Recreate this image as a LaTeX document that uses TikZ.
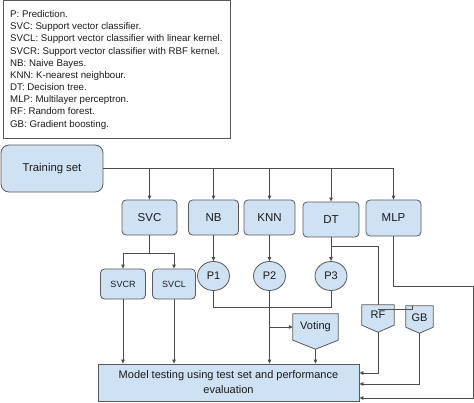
\documentclass[tikz,border=0pt]{standalone}
\usepackage{fontspec}
\setmainfont{Liberation Sans}
\usetikzlibrary{arrows.meta,calc,shapes.geometric}
\definecolor{boxfill}{HTML}{CFE2F3}
\definecolor{edgecol}{HTML}{595959}
\definecolor{wire}{HTML}{4D4D4D}
\definecolor{txt}{HTML}{1A1A1A}
\begin{document}
\begin{tikzpicture}[x=1pt,y=-1pt,
  box/.style={draw=edgecol, fill=boxfill, rounded corners=4pt, line width=0.8pt, inner sep=0pt, text=txt},
  bigfont/.style={font=\fontsize{11.5}{13}\selectfont},
  smallfont/.style={font=\fontsize{9}{11}\selectfont},
  pcirc/.style={ellipse, draw=edgecol, fill=boxfill, line width=0.8pt, inner sep=0pt, minimum width=32, minimum height=29, text=txt, font=\fontsize{11}{13}\selectfont},
  tagtext/.style={inner sep=0pt, text=txt, font=\fontsize{11}{13}\selectfont},
  tagshape/.style={draw=edgecol, fill=boxfill, line width=0.8pt, line join=round},
  wireline/.style={draw=wire, line width=0.8pt},
  arr/.style={wireline, -{Triangle[length=4pt,width=3.5pt]}},
  legline/.style={anchor=base west, inner sep=0pt, text=txt, font=\fontsize{9.7}{12}\selectfont}
]
\useasboundingbox (0,0) rectangle (474,402);

% legend
\node[draw=edgecol, line width=0.8pt, anchor=north west, minimum width=227, minimum height=138, inner sep=0pt] (legend) at (3,0.4) {};
\foreach \t [count=\i] in {P: Prediction.,
  SVC: Support vector classifier.,
  SVCL: Support vector classifier with linear kernel.,
  SVCR: Support vector classifier with RBF kernel.,
  NB: Naive Bayes.,
  KNN: K-nearest neighbour.,
  DT: Decision tree.,
  MLP: Multilayer perceptron.,
  RF: Random forest.,
  GB: Gradient boosting.}
  \node[legline] (leg\i) at (10,{17.5+12.17*(\i-1)}) {\t};

% training set
\node[box, rounded corners=8pt, minimum width=102, minimum height=47, font=\fontsize{11.3}{13}\selectfont] (train) at (52,168.5) {Training set};

% models
\node[box, bigfont, minimum width=55, minimum height=35] (svc) at (149.5,217.5) {SVC};
\node[box, bigfont, minimum width=50, minimum height=35] (nb) at (213.5,217.5) {NB};
\node[box, bigfont, minimum width=51, minimum height=35] (knn) at (269.5,217.5) {KNN};
\node[box, bigfont, minimum width=56, minimum height=35] (dt) at (331,219.5) {DT};
\node[box, bigfont, minimum width=55, minimum height=36] (mlp) at (393.5,218) {MLP};

% second level
\node[box, smallfont, minimum width=45, minimum height=30] (svcr) at (123,284) {SVCR};
\node[box, smallfont, minimum width=43, minimum height=30] (svcl) at (174,284) {SVCL};
\node[pcirc] (p1) at (213.5,276) {P1};
\node[pcirc] (p2) at (269.5,276) {P2};
\node[pcirc] (p3) at (331,276) {P3};

% voting, RF, GB
\node[tagtext, minimum width=45, minimum height=26] (vote) at (315.5,327) {};
\draw[tagshape] (vote.north west) -- (vote.north east) -- (vote.south east) -- ([yshift=-9pt]vote.south) -- (vote.south west) -- cycle;
\node[tagtext] (votet) at (vote.center) {Voting};

\node[tagtext, minimum width=32, minimum height=20] (rf) at (378,315) {};
\draw[tagshape] (rf.north west) -- (rf.north east) -- (rf.south east) -- ([yshift=-7pt]rf.south) -- (rf.south west) -- cycle;
\node[tagtext] (rft) at (rf.center) {RF};

\node[tagtext, minimum width=27, minimum height=21] (gb) at (419.5,316.5) {};
\draw[tagshape] (gb.north west) -- (gb.north east) -- (gb.south east) -- ([yshift=-6pt]gb.south) -- (gb.south west) -- cycle;
\node[tagtext] (gbt) at ([yshift=-1.5pt]gb.center) {GB};

% model testing
\node[draw=edgecol, fill=boxfill, line width=0.8pt, inner sep=0pt, minimum width=261, minimum height=37, align=center, text=txt, font=\fontsize{11}{15}\selectfont] (model) at (228.5,382.5) {Model testing using test set and performance\\evaluation};

% helper coordinates
\coordinate (yrf) at (0,373);
\coordinate (ygb) at (0,384);
\coordinate (ymlp) at (0,398);
\coordinate (mlpturn) at (473.5,286);

% connectors from training set
\draw[wireline] (train.east) -- (mlp.north |- train.east);
\foreach \n in {svc,nb,knn,dt,mlp}
  \draw[arr] (\n.north |- train.east) -- (\n.north);

% SVC split
\coordinate (sj) at ($(svc.south)+(0,18)$);
\draw[wireline] (svc.south) -- (sj);
\draw[arr] (sj) -| (svcr.north);
\draw[arr] (sj) -| (svcl.north);

% predictions
\draw[arr] (nb.south) -- (p1.north);
\draw[arr] (knn.south) -- (p2.north);
\draw[arr] (dt.south) -- (p3.north);
\draw[wireline] (p1.south) -- ++(0,16) -| (p3.south);
\draw[arr] (p2.south) -- (p2.south |- model.north);
\draw[arr] (p2.south |- vote.west) -- (vote.west);
\draw[arr] ([yshift=-9pt]vote.south) -- (vote.south |- model.north);

% DT to RF / GB
\draw[wireline] ([yshift=-9pt]dt.south) -| (rf.north);
\draw[wireline] ([yshift=-5pt]rf.north) -| ([xshift=-7.5pt]gb.north);

% into model testing
\draw[arr] (svcr.south) -- (svcr.south |- model.north);
\draw[arr] (svcl.south) -- (svcl.south |- model.north);
\draw[arr] ([yshift=-7pt]rf.south) |- (model.east |- yrf);
\draw[arr] ([yshift=-6pt]gb.south) |- (model.east |- ygb);
\draw[arr] (mlp.south) |- (mlpturn) |- (model.east |- ymlp);
\end{tikzpicture}
\end{document}
